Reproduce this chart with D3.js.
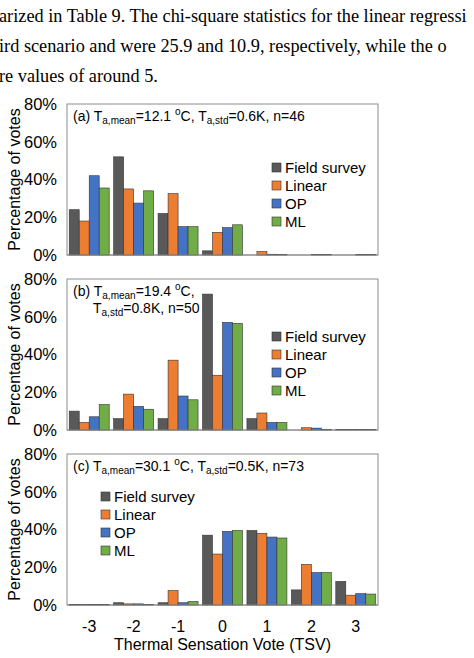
<!DOCTYPE html>
<html><head><meta charset="utf-8">
<script src="https://cdn.jsdelivr.net/npm/d3@7"></script>
<style>
body{margin:0;background:#fff}
text{font-family:"Liberation Sans",Arial,sans-serif}
</style></head>
<body>
<svg id="chart" width="474" height="658"></svg>
<script>
var tsv = ["-3", "-2", "-1", "0", "1", "2", "3"]
var seriesNames = ["Field survey", "Linear", "OP", "ML"]
var colors = ["#595959", "#ed7d31", "#4472c4", "#70ad47"]
var yTicks = [0, 20, 40, 60, 80]

// panel a
var aField = [24, 52, 22, 2.2, 0, 0, 0]
var aLinear = [18, 35, 32.5, 12, 1.8, 0, 0]
var aOP = [42, 27.5, 15, 14.5, 0.4, 0.2, 0.2]
var aML = [35.5, 34, 15, 16, 0.3, 0.2, 0.2]
// panel b
var bField = [10, 6, 6, 72, 6, 0, 0.2]
var bLinear = [4, 19, 37, 29, 9, 1.2, 0.2]
var bOP = [7, 12.5, 18, 57, 4, 1, 0.2]
var bML = [13.5, 11, 16, 56.5, 4, 0.3, 0.2]
// panel c
var cField = [0.2, 1.2, 1.2, 37, 39.5, 8, 12.5]
var cLinear = [0.2, 0.6, 7.6, 27, 38, 21.5, 5.2]
var cOP = [0.2, 0.6, 1.2, 39, 36, 17.2, 6]
var cML = [0.2, 0.3, 1.8, 39.5, 35.5, 17.2, 5.8]

var svg = d3.select("#chart")

// paper text above the figure
var paper = [
    "arized in Table 9. The chi-square statistics for the linear regressi",
    "ird scenario and were 25.9 and 10.9, respectively, while the o",
    "re values of around 5."
]
svg.selectAll(".paper").data(paper).enter().append("text")
    .attr("x", -1).attr("y", function (d, i) { return 22 + i * 30 })
    .style("font-family", "'Liberation Serif','Times New Roman',serif")
    .style("font-size", "18.3px").text(function (d) { return d })

var left = 67, right = 378
var x0 = d3.scaleBand().domain(tsv).range([left, right]).paddingInner(0.1).paddingOuter(0.05)
var x1 = d3.scaleBand().domain(seriesNames).range([0, x0.bandwidth()])

var panels = [
    {top: 104, bottom: 255, data: [aField, aLinear, aOP, aML], legend: [272, 168],
     title: [[["(a) T", 0], ["a,mean", 1], ["=12.1 ", 0], ["o", 2], ["C, T", 0], ["a,std", 1], ["=0.6K, n=46", 0]]]},
    {top: 279, bottom: 430, data: [bField, bLinear, bOP, bML], legend: [272, 337],
     title: [[["(b) T", 0], ["a,mean", 1], ["=19.4 ", 0], ["o", 2], ["C,", 0]],
             [["T", 0], ["a,std", 1], ["=0.8K, n=50", 0]]]},
    {top: 454, bottom: 605, data: [cField, cLinear, cOP, cML], legend: [101, 497],
     title: [[["(c) T", 0], ["a,mean", 1], ["=30.1 ", 0], ["o", 2], ["C, T", 0], ["a,std", 1], ["=0.5K, n=73", 0]]]}
]

panels.forEach(function (p, pi) {
    var y = d3.scaleLinear().domain([0, 80]).range([p.bottom, p.top])
    var g = svg.append("g")

    g.append("rect").attr("x", left).attr("y", p.top).attr("width", right - left)
        .attr("height", p.bottom - p.top).attr("fill", "none").attr("stroke", "#8c8c8c").attr("stroke-width", 1)

    var ax = g.append("g").attr("transform", "translate(" + left + ",0)")
        .call(d3.axisLeft(y).tickValues(yTicks).tickSize(0).tickPadding(10)
            .tickFormat(function (d) { return d + "%" }))
    ax.select(".domain").remove()
    ax.selectAll("text").style("font-size", "16.5px").attr("fill", "#000")

    g.append("text").attr("transform", "translate(20," + ((p.top + p.bottom) / 2) + ") rotate(-90)")
        .attr("text-anchor", "middle").style("font-size", "16px").text("Percentage of votes")

    p.data.forEach(function (vals, si) {
        g.selectAll(".bar" + si).data(vals).enter().append("rect")
            .attr("x", function (d, i) { return x0(tsv[i]) + x1(seriesNames[si]) })
            .attr("width", x1.bandwidth())
            .attr("y", function (d) { return y(d) })
            .attr("height", function (d) { return p.bottom - y(d) })
            .attr("fill", colors[si]).attr("stroke", "#333").attr("stroke-width", 0.6)
    })

    g.append("line").attr("x1", left).attr("x2", right).attr("y1", p.bottom).attr("y2", p.bottom)
        .attr("stroke", "#8c8c8c")

    // title with subscripts / superscripts
    p.title.forEach(function (line, li) {
        var t = g.append("text").attr("x", li === 0 ? 73 : 93).attr("y", p.top + 17 + li * 17)
            .style("font-size", "14px")
        var shift = 0
        line.forEach(function (part) {
            var target = part[1] === 1 ? 3 : part[1] === 2 ? -6 : 0
            var ts = t.append("tspan").attr("dy", target - shift).text(part[0])
            shift = target
            if (part[1]) ts.style("font-size", "10px")
        })
    })

    // legend
    var lg = g.append("g").attr("transform", "translate(" + p.legend[0] + "," + p.legend[1] + ")")
    seriesNames.forEach(function (n, i) {
        lg.append("rect").attr("x", 0).attr("y", i * 18 - 5).attr("width", 9).attr("height", 9)
            .attr("fill", colors[i]).attr("stroke", "#333").attr("stroke-width", 0.6)
        lg.append("text").attr("x", 13).attr("y", i * 18 + 5).style("font-size", "15px").text(n)
    })

    if (pi === 2) {
        var xa = g.append("g").attr("transform", "translate(0," + p.bottom + ")")
            .call(d3.axisBottom(x0).tickSize(0).tickPadding(16))
        xa.select(".domain").remove()
        xa.selectAll("text").style("font-size", "16px").attr("fill", "#000")
        g.append("text").attr("x", (left + right) / 2).attr("y", 650).attr("text-anchor", "middle")
            .style("font-size", "16px").text("Thermal Sensation Vote (TSV)")
    }
})
</script>
</body></html>
